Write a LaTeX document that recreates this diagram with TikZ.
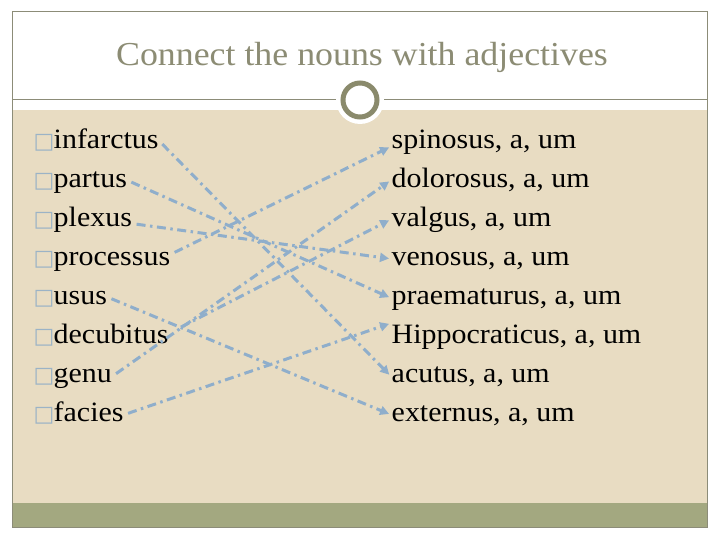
\documentclass[tikz,border=0pt]{standalone}
\usepackage{fontspec}
\setmainfont{Liberation Serif}[FakeStretch=1.07]
\newfontfamily\symfont{DejaVu Sans}
\usetikzlibrary{arrows.meta}
\definecolor{beigec}{RGB}{232,220,194}
\definecolor{bandc}{RGB}{163,168,128}
\definecolor{framec}{RGB}{140,140,120}
\definecolor{titlec}{RGB}{140,140,116}
\definecolor{ringc}{RGB}{138,138,108}
\definecolor{arrowc}{RGB}{143,174,203}
\definecolor{bulc}{RGB}{155,179,198}
\tikzset{
  item/.style={inner sep=1.5pt, anchor=base west, text height=20pt, text depth=6pt,
    font=\fontsize{28}{34}\selectfont, text=black},
  bul/.style={inner sep=0pt, anchor=base east, font=\symfont\fontsize{22}{28}\selectfont, text=bulc},
  titlestyle/.style={inner sep=0pt, anchor=base, font=\fontsize{33.5}{40}\selectfont, text=titlec},
  conn/.style={draw=arrowc, line width=3pt, dash pattern=on 9pt off 4.5pt on 2.5pt off 4.5pt,
    -{Triangle[length=9pt,width=9pt]}, shorten <=3pt, shorten >=1pt}
}
\begin{document}
\begin{tikzpicture}[x=1pt,y=-1pt]
\useasboundingbox (0,0) rectangle (720,540);
\fill[white] (0,0) rectangle (720,540);
\fill[beigec] (12,110) rectangle (707,503);
\fill[bandc] (12,503) rectangle (707,527);
\draw[framec, line width=1pt] (12,12) rectangle (707,527);
\draw[framec, line width=1pt] (12,100) -- (707,100);
\fill[white] (360,100) circle[radius=24pt];
\draw[ringc, line width=5pt] (360,100) circle[radius=17pt];
\node[titlestyle] (title) at (362,66) {Connect the nouns with adjectives};

% bullets
\foreach \i/\y in {1/149,2/187.9,3/226.8,4/265.7,5/304.6,6/343.5,7/382.4,8/421.3}{
  \node[bul] (B\i) at (54.5,\y) {□};
}
% left nouns
\node[item] (L1) at (52,149) {infarctus};
\node[item] (L2) at (52,187.9) {partus};
\node[item] (L3) at (52,226.8) {plexus};
\node[item] (L4) at (52,265.7) {processus};
\node[item] (L5) at (52,304.6) {usus};
\node[item] (L6) at (52,343.5) {decubitus};
\node[item] (L7) at (52,382.4) {genu};
\node[item] (L8) at (52,421.3) {facies};
% right adjectives
\node[item] (R1) at (390,149) {spinosus, a, um};
\node[item] (R2) at (390,187.9) {dolorosus, a, um};
\node[item] (R3) at (390,226.8) {valgus, a, um};
\node[item] (R4) at (390,265.7) {venosus, a, um};
\node[item] (R5) at (390,304.6) {praematurus, a, um};
\node[item] (R6) at (390,343.5) {Hippocraticus, a, um};
\node[item] (R7) at (390,382.4) {acutus, a, um};
\node[item] (R8) at (390,421.3) {externus, a, um};

% connectors
\draw[conn] (L1.east) -- (R7.west);
\draw[conn] (L2.east) -- (R5.west);
\draw[conn] ([yshift=-4pt]L3.east) -- (R4.west);
\draw[conn] ([yshift=5pt]L4.east) -- ([yshift=-5pt]R1.west);
\draw[conn] (L5.east) -- (R8.west);
\draw[conn] ([xshift=8pt,yshift=8pt]L6.east) -- (R3.west);
\draw[conn] (L7.east) -- (R2.west);
\draw[conn] (L8.east) -- ([yshift=13pt]R6.west);
\end{tikzpicture}
\end{document}
